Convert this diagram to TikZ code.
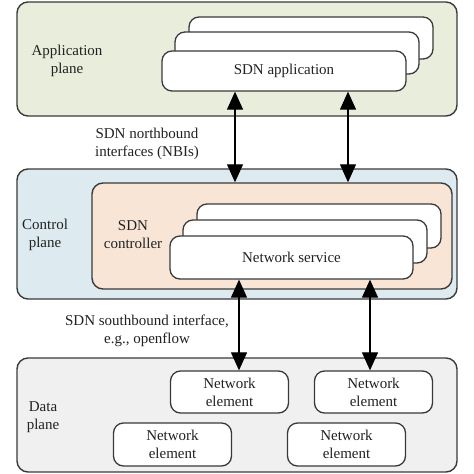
\documentclass[tikz,border=0pt]{standalone}
\usepackage{fontspec}
\setmainfont{Liberation Serif}
\usetikzlibrary{arrows.meta}
\definecolor{appgreen}{HTML}{E9EEDC}
\definecolor{ctrlblue}{HTML}{DDEBF1}
\definecolor{peach}{HTML}{F8E5D6}
\definecolor{datagray}{HTML}{F0F0F0}
\definecolor{edge}{HTML}{3A3A3A}
\definecolor{txt}{HTML}{222222}
\begin{document}
\begin{tikzpicture}[x=1pt,y=-1pt,
  every node/.style={font=\fontsize{15}{18}\selectfont, text=txt},
  plane/.style={draw=edge, line width=1.4pt, rounded corners=11pt, inner sep=0pt},
  box/.style={draw=edge, line width=1.3pt, rounded corners=10pt, fill=white, inner sep=0pt},
  lbl/.style={align=center, inner sep=0pt},
  link/.style={draw=black, line width=1.2pt, {Triangle[length=18pt,width=16pt]}-{Triangle[length=18pt,width=16pt]}}
]
\useasboundingbox (0,0) rectangle (474,474);
\fill[white] (0,0) rectangle (474,474);

% Application plane
\node[plane, fill=appgreen, minimum width=440pt, minimum height=114pt] (app) at (237,59) {};
\node[box, minimum width=244pt, minimum height=42pt] (appback) at (311,38) {};
\node[box, minimum width=244pt, minimum height=42pt] (appmid) at (297,53) {};
\node[box, minimum width=244pt, minimum height=40pt] (appfront) at (284,71) {SDN application};
\node[lbl] (applbl) at (67,61) {Application\\plane};

% Control plane
\node[plane, fill=ctrlblue, minimum width=440pt, minimum height=130pt] (ctl) at (237,234) {};
\node[plane, fill=peach, minimum width=360pt, minimum height=106pt] (sdnc) at (272,236) {};
\node[box, minimum width=244pt, minimum height=44pt] (nsback) at (319,226) {};
\node[box, minimum width=244pt, minimum height=43pt] (nsmid) at (305,241.5) {};
\node[box, minimum width=243pt, minimum height=43pt] (nsfront) at (291.5,257.5) {Network service};
\node[lbl] (ctllbl) at (45,235) {Control\\plane};
\node[lbl] (sdnclbl) at (133,235) {SDN\\controller};

% Data plane
\node[plane, fill=datagray, minimum width=440pt, minimum height=114pt] (data) at (237,415) {};
\node[box, lbl, minimum width=118pt, minimum height=42pt] (ne1) at (229.5,392) {Network\\element};
\node[box, lbl, minimum width=118pt, minimum height=42pt] (ne2) at (373.5,392) {Network\\element};
\node[box, lbl, minimum width=118pt, minimum height=43pt] (ne3) at (172.5,444.5) {Network\\element};
\node[box, lbl, minimum width=118pt, minimum height=43pt] (ne4) at (346.5,444.5) {Network\\element};
\node[lbl] (datalbl) at (43,417) {Data\\plane};

% Interface labels
\node[lbl] (nbi) at (147,144) {SDN northbound\\interfaces (NBIs)};
\node[lbl] (sbi) at (147,331) {SDN southbound interface,\\e.g., openflow};

% Connectors
\coordinate (n1) at (235,0);
\coordinate (n2) at (348,0);
\coordinate (s1) at (239,0);
\coordinate (s2) at (370,0);
\draw[link] (appfront.south -| n1) -- (sdnc.north -| n1);
\draw[link] (appfront.south -| n2) -- (sdnc.north -| n2);
\draw[link] (nsfront.south -| s1) -- (ne1.north -| s1);
\draw[link] (nsfront.south -| s2) -- (ne2.north -| s2);
\end{tikzpicture}
\end{document}
